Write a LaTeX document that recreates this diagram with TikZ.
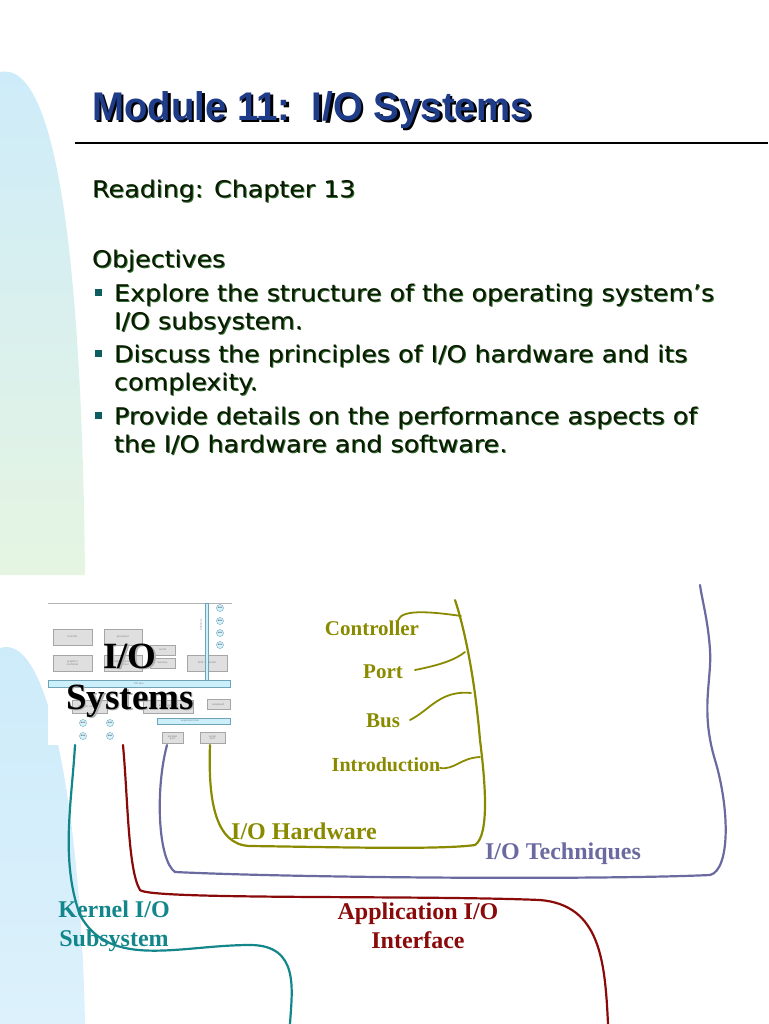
\documentclass[tikz,border=0pt]{standalone}
\usepackage{fontspec}
\setmainfont{DejaVu Sans}
\newfontfamily\titlefont{Liberation Sans}
\newfontfamily\serifb{Liberation Serif}
\usetikzlibrary{shadings}
\definecolor{teal1}{HTML}{12868A}
\definecolor{red1}{HTML}{8A0A0A}
\definecolor{pur1}{HTML}{6A6AA0}
\definecolor{oli1}{HTML}{8A8A00}
\definecolor{txt}{HTML}{0A1A00}
\definecolor{shd}{HTML}{2E6B2E}
\definecolor{ttl}{HTML}{1F3C88}
\definecolor{blob1}{HTML}{CDEBFA}
\definecolor{blob2}{HTML}{E6F5E2}
\tikzset{
 body/.style={anchor=base west,font=\fontsize{23}{25}\selectfont,text=txt,xscale=1.1,inner sep=0},
 bodys/.style={body,text=shd},
 lab/.style={font=\serifb\bfseries\fontsize{21}{28}\selectfont,align=center},
 labb/.style={font=\serifb\bfseries\fontsize{24}{29}\selectfont,align=center},
 hw/.style={draw=gray!70,fill=gray!25,font=\fontsize{2.5}{2.5}\selectfont,align=center,inner sep=0,text=gray},
 bus/.style={draw=cyan!40!gray,fill=cyan!20},
 dsk/.style={circle,draw=cyan!50!gray,fill=cyan!15,inner sep=0,minimum size=7,font=\fontsize{2}{2}\selectfont},
 curve/.style={line width=2.2pt,line cap=round},
 big/.style={anchor=base,font=\serifb\bfseries\fontsize{37}{40}\selectfont},
}
\begin{document}
\begin{tikzpicture}[x=1pt,y=-1pt]
\useasboundingbox (0,0) rectangle (768,1024);
% background blobs
\shade[top color=blob1,bottom color=blob2] (0,575) -- (0,72) .. controls (55,60) and (82,250) .. (85,575) -- cycle;
\shade[top color=blob1,bottom color=blob1!70] (0,1024) -- (0,648) .. controls (55,630) and (82,850) .. (85,1024) -- cycle;
% title
\node[anchor=base west,font=\titlefont\bfseries\fontsize{40}{44}\selectfont,xscale=0.96,text=black,inner sep=0] at (94.5,123) {Module 11:\ \ I/O Systems};
\node[anchor=base west,font=\titlefont\bfseries\fontsize{40}{44}\selectfont,xscale=0.96,text=ttl,inner sep=0] (title) at (92,120.5) {Module 11:\ \ I/O Systems};
\draw[line width=1.5pt] (75,143) -- (768,143);
% body (shadow then text)
\foreach \dx/\st in {1/bodys,0/body}{
\node[\st] at (92+\dx,198+\dx) {Reading: Chapter 13};
\node[\st] at (92+\dx,267+\dx) {Objectives};
\node[\st] at (114+\dx,301+\dx) {Explore the structure of the operating system’s};
\node[\st] at (114+\dx,329+\dx) {I/O subsystem.};
\node[\st] at (114+\dx,362+\dx) {Discuss the principles of I/O hardware and its};
\node[\st] at (114+\dx,390+\dx) {complexity.};
\node[\st] at (114+\dx,424+\dx) {Provide details on the performance aspects of};
\node[\st] at (114+\dx,452+\dx) {the I/O hardware and software.};
}
\foreach \y in {293,354,416}{\fill[teal1!70!black] (95,\y-4) rectangle (102,\y+3);}
% hardware picture
\fill[white] (48,603) rectangle (232,745);
\draw[gray!60] (48,603) -- (232,603);
\node[hw,minimum width=39,minimum height=16] (mon) at (72.5,637) {monitor};
\node[hw,minimum width=39,minimum height=16] (gc) at (72.5,663) {graphics\\controller};
\node[hw,minimum width=38,minimum height=16] (pr) at (123,637) {processor};
\node[hw,minimum width=38,minimum height=16] (br) at (123,663) {bridge/memory\\controller};
\node[hw,minimum width=25,minimum height=10] (ca) at (162.5,650) {cache};
\node[hw,minimum width=25,minimum height=10] (me) at (162.5,663) {memory};
\node[hw,minimum width=40,minimum height=16] (sc) at (207,663) {SCSI controller};
\draw[bus] (48,680) rectangle (230,687);
\node[font=\fontsize{2.5}{2.5}\selectfont,text=gray] at (139,683.5) {PCI bus};
\draw[bus] (205,603) rectangle (208,680);
\node[font=\fontsize{2.5}{2.5}\selectfont,text=gray,rotate=90] at (201,625) {SCSI bus};
\foreach \y in {608,621,633,645}{\node[dsk] at (220,\y) {disk};}
\node[hw,minimum width=35,minimum height=13] (ide) at (89.5,706.5) {IDE disk controller};
\node[hw,minimum width=50,minimum height=13] (exi) at (168,706.5) {expansion bus\\interface};
\node[hw,minimum width=23,minimum height=10] (kb) at (218.5,704.5) {keyboard};
\draw[bus] (157,718) rectangle (230,724);
\node[font=\fontsize{2.5}{2.5}\selectfont,text=gray] at (190,721) {expansion bus};
\node[hw,minimum width=21,minimum height=11] (pp) at (172.5,738) {parallel\\port};
\node[hw,minimum width=25,minimum height=11] (sp) at (212.5,738) {serial\\port};
\foreach \x in {83,110}{\node[dsk] at (\x,723) {disk};\node[dsk] at (\x,736) {disk};}
\node[big,text=gray!60] at (131.5,669.5) {I/O};
\node[big] (io) at (130,668) {I/O};
\node[big,text=gray!60] at (131.5,710.5) {Systems};
\node[big] (sys) at (130,709) {Systems};
% curves
\coordinate (t0) at (75,745); \coordinate (t1) at (290,1024);
\coordinate (r0) at (123,745); \coordinate (r1) at (608,1024);
\coordinate (p0) at (167,745); \coordinate (p1) at (700,585);
\coordinate (o0) at (210,745); \coordinate (o1) at (455,600);
\draw[curve,teal1] (t0) .. controls (72,800) and (60,860) .. (80,915) .. controls (110,970) and (180,945) .. (250,945) .. controls (300,945) and (292,990) .. (t1);
\draw[curve,red1] (r0) .. controls (128,800) and (128,870) .. (140,890) .. controls (150,900) and (420,895) .. (540,900) .. controls (600,905) and (605,960) .. (r1);
\draw[curve,pur1] (p0) .. controls (155,790) and (158,860) .. (175,872) .. controls (300,878) and (600,880) .. (710,875) .. controls (730,870) and (730,810) .. (715,760) .. controls (700,710) and (712,680) .. (710,650) .. controls (708,620) and (702,600) .. (p1);
\draw[curve,oli1] (o0) .. controls (208,800) and (215,845) .. (250,846) .. controls (330,847) and (440,850) .. (475,845) .. controls (490,835) and (485,780) .. (480,740) .. controls (475,680) and (465,630) .. (o1);
\draw[curve,oli1,line width=1.8pt] (398,625) .. controls (395,610) and (420,610) .. (461,616);
\draw[curve,oli1,line width=1.8pt] (415,670) .. controls (440,665) and (455,660) .. (465,652);
\draw[curve,oli1,line width=1.8pt] (410,720) .. controls (430,710) and (440,690) .. (471,693);
\draw[curve,oli1,line width=1.8pt] (440,768) .. controls (455,770) and (460,758) .. (480,757);
% labels
\node[lab,text=oli1] (c) at (372,628) {Controller};
\node[lab,text=oli1] (pt) at (383,672) {Port};
\node[lab,text=oli1] (b) at (383,721) {Bus};
\node[lab,text=oli1,font=\serifb\bfseries\fontsize{20}{28}\selectfont] (in) at (386,765) {Introduction};
\node[labb,text=oli1] (ih) at (304,831) {I/O Hardware};
\node[labb,text=pur1] (it) at (563,854) {I/O Techniques};
\node[labb,text=teal1] (k) at (114,926) {Kernel I/O\\Subsystem};
\node[labb,text=red1] (a) at (418,926) {Application I/O\\Interface};
\end{tikzpicture}
\end{document}
